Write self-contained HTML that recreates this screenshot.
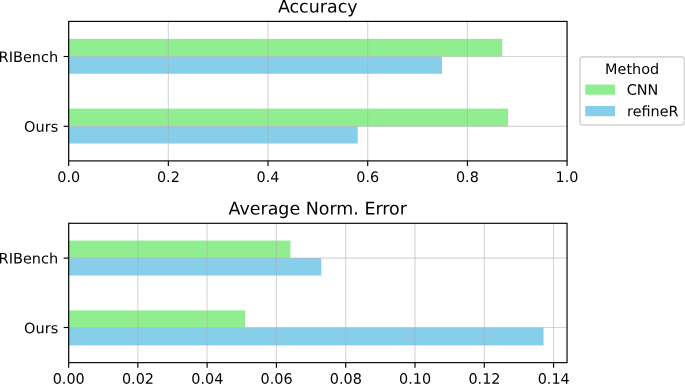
<!DOCTYPE html>
<html><head><meta charset="utf-8"><title>Accuracy / Average Norm. Error</title>
<style>html,body{margin:0;padding:0;background:#fff}body{width:685px;height:384px;overflow:hidden}svg{display:block}text{font-family:"DejaVu Sans", "Liberation Sans", sans-serif;fill:#000}</style>
</head><body>
<svg width="685" height="384" viewBox="0 0 685 384">
<rect width="685" height="384" fill="#fff"/>
<rect x="68.68" y="21.40" width="498.37" height="139.50" fill="#fff"/>
<rect x="68.68" y="38.86" width="433.58" height="17.64" fill="#90ee90"/>
<rect x="68.68" y="56.50" width="373.32" height="17.30" fill="#87ceeb"/>
<rect x="68.68" y="108.59" width="439.32" height="17.71" fill="#90ee90"/>
<rect x="68.68" y="126.30" width="289.05" height="17.25" fill="#87ceeb"/>
<line x1="68.68" x2="68.68" y1="21.40" y2="160.90" stroke="#b0b0b0" stroke-opacity="0.5" stroke-width="1.15"/>
<line x1="168.35" x2="168.35" y1="21.40" y2="160.90" stroke="#b0b0b0" stroke-opacity="0.5" stroke-width="1.15"/>
<line x1="268.03" x2="268.03" y1="21.40" y2="160.90" stroke="#b0b0b0" stroke-opacity="0.5" stroke-width="1.15"/>
<line x1="367.70" x2="367.70" y1="21.40" y2="160.90" stroke="#b0b0b0" stroke-opacity="0.5" stroke-width="1.15"/>
<line x1="467.38" x2="467.38" y1="21.40" y2="160.90" stroke="#b0b0b0" stroke-opacity="0.5" stroke-width="1.15"/>
<line x1="567.05" x2="567.05" y1="21.40" y2="160.90" stroke="#b0b0b0" stroke-opacity="0.5" stroke-width="1.15"/>
<line x1="68.68" x2="567.05" y1="56.50" y2="56.50" stroke="#b0b0b0" stroke-opacity="0.5" stroke-width="1.15"/>
<line x1="68.68" x2="567.05" y1="126.30" y2="126.30" stroke="#b0b0b0" stroke-opacity="0.5" stroke-width="1.15"/>
<line x1="68.68" x2="68.68" y1="160.90" y2="165.94" stroke="#000" stroke-width="1.15"/>
<text transform="translate(68.68,182.10) rotate(0.05)" font-size="14.4" text-anchor="middle">0.0</text>
<line x1="168.35" x2="168.35" y1="160.90" y2="165.94" stroke="#000" stroke-width="1.15"/>
<text transform="translate(168.35,182.10) rotate(0.05)" font-size="14.4" text-anchor="middle">0.2</text>
<line x1="268.03" x2="268.03" y1="160.90" y2="165.94" stroke="#000" stroke-width="1.15"/>
<text transform="translate(268.03,182.10) rotate(0.05)" font-size="14.4" text-anchor="middle">0.4</text>
<line x1="367.70" x2="367.70" y1="160.90" y2="165.94" stroke="#000" stroke-width="1.15"/>
<text transform="translate(367.70,182.10) rotate(0.05)" font-size="14.4" text-anchor="middle">0.6</text>
<line x1="467.38" x2="467.38" y1="160.90" y2="165.94" stroke="#000" stroke-width="1.15"/>
<text transform="translate(467.38,182.10) rotate(0.05)" font-size="14.4" text-anchor="middle">0.8</text>
<line x1="567.05" x2="567.05" y1="160.90" y2="165.94" stroke="#000" stroke-width="1.15"/>
<text transform="translate(567.05,182.10) rotate(0.05)" font-size="14.4" text-anchor="middle">1.0</text>
<line x1="63.64" x2="68.68" y1="56.50" y2="56.50" stroke="#000" stroke-width="1.15"/>
<text transform="translate(58.20,62.00) rotate(0.05)" font-size="14.5" text-anchor="end">RIBench</text>
<line x1="63.64" x2="68.68" y1="126.30" y2="126.30" stroke="#000" stroke-width="1.15"/>
<text transform="translate(58.20,131.80) rotate(0.05)" font-size="14.5" text-anchor="end">Ours</text>
<rect x="68.68" y="21.40" width="498.37" height="139.50" fill="none" stroke="#000" stroke-width="1.15"/>
<text transform="translate(317.72,12.60) rotate(0.05)" font-size="17.47" text-anchor="middle">Accuracy</text>
<rect x="68.68" y="223.30" width="498.37" height="139.35" fill="#fff"/>
<rect x="68.68" y="240.55" width="221.73" height="17.55" fill="#90ee90"/>
<rect x="68.68" y="258.10" width="252.62" height="17.46" fill="#87ceeb"/>
<rect x="68.68" y="310.39" width="176.42" height="17.11" fill="#90ee90"/>
<rect x="68.68" y="327.50" width="474.87" height="17.94" fill="#87ceeb"/>
<line x1="68.68" x2="68.68" y1="223.30" y2="362.65" stroke="#b0b0b0" stroke-opacity="0.5" stroke-width="1.15"/>
<line x1="137.82" x2="137.82" y1="223.30" y2="362.65" stroke="#b0b0b0" stroke-opacity="0.5" stroke-width="1.15"/>
<line x1="207.11" x2="207.11" y1="223.30" y2="362.65" stroke="#b0b0b0" stroke-opacity="0.5" stroke-width="1.15"/>
<line x1="276.40" x2="276.40" y1="223.30" y2="362.65" stroke="#b0b0b0" stroke-opacity="0.5" stroke-width="1.15"/>
<line x1="345.69" x2="345.69" y1="223.30" y2="362.65" stroke="#b0b0b0" stroke-opacity="0.5" stroke-width="1.15"/>
<line x1="414.98" x2="414.98" y1="223.30" y2="362.65" stroke="#b0b0b0" stroke-opacity="0.5" stroke-width="1.15"/>
<line x1="484.27" x2="484.27" y1="223.30" y2="362.65" stroke="#b0b0b0" stroke-opacity="0.5" stroke-width="1.15"/>
<line x1="553.56" x2="553.56" y1="223.30" y2="362.65" stroke="#b0b0b0" stroke-opacity="0.5" stroke-width="1.15"/>
<line x1="68.68" x2="567.05" y1="258.10" y2="258.10" stroke="#b0b0b0" stroke-opacity="0.5" stroke-width="1.15"/>
<line x1="68.68" x2="567.05" y1="327.50" y2="327.50" stroke="#b0b0b0" stroke-opacity="0.5" stroke-width="1.15"/>
<line x1="68.68" x2="68.68" y1="362.65" y2="367.69" stroke="#000" stroke-width="1.15"/>
<text transform="translate(68.68,383.85) rotate(0.05)" font-size="14.4" text-anchor="middle">0.00</text>
<line x1="137.82" x2="137.82" y1="362.65" y2="367.69" stroke="#000" stroke-width="1.15"/>
<text transform="translate(137.97,383.85) rotate(0.05)" font-size="14.4" text-anchor="middle">0.02</text>
<line x1="207.11" x2="207.11" y1="362.65" y2="367.69" stroke="#000" stroke-width="1.15"/>
<text transform="translate(207.26,383.85) rotate(0.05)" font-size="14.4" text-anchor="middle">0.04</text>
<line x1="276.40" x2="276.40" y1="362.65" y2="367.69" stroke="#000" stroke-width="1.15"/>
<text transform="translate(276.55,383.85) rotate(0.05)" font-size="14.4" text-anchor="middle">0.06</text>
<line x1="345.69" x2="345.69" y1="362.65" y2="367.69" stroke="#000" stroke-width="1.15"/>
<text transform="translate(345.84,383.85) rotate(0.05)" font-size="14.4" text-anchor="middle">0.08</text>
<line x1="414.98" x2="414.98" y1="362.65" y2="367.69" stroke="#000" stroke-width="1.15"/>
<text transform="translate(415.13,383.85) rotate(0.05)" font-size="14.4" text-anchor="middle">0.10</text>
<line x1="484.27" x2="484.27" y1="362.65" y2="367.69" stroke="#000" stroke-width="1.15"/>
<text transform="translate(484.42,383.85) rotate(0.05)" font-size="14.4" text-anchor="middle">0.12</text>
<line x1="553.56" x2="553.56" y1="362.65" y2="367.69" stroke="#000" stroke-width="1.15"/>
<text transform="translate(553.71,383.85) rotate(0.05)" font-size="14.4" text-anchor="middle">0.14</text>
<line x1="63.64" x2="68.68" y1="258.10" y2="258.10" stroke="#000" stroke-width="1.15"/>
<text transform="translate(58.20,263.60) rotate(0.05)" font-size="14.5" text-anchor="end">RIBench</text>
<line x1="63.64" x2="68.68" y1="327.50" y2="327.50" stroke="#000" stroke-width="1.15"/>
<text transform="translate(58.20,333.20) rotate(0.05)" font-size="14.5" text-anchor="end">Ours</text>
<rect x="68.68" y="223.30" width="498.37" height="139.35" fill="none" stroke="#000" stroke-width="1.15"/>
<text transform="translate(317.72,214.50) rotate(0.05)" font-size="17.47" text-anchor="middle">Average Norm. Error</text>
<rect x="579.95" y="56.85" width="104.50" height="68.10" rx="2.9" ry="2.9" fill="#fff" fill-opacity="0.8" stroke="#ccc" stroke-opacity="0.8" stroke-width="1.6"/>
<text transform="translate(632.10,73.90) rotate(0.05)" font-size="14.4" text-anchor="middle">Method</text>
<rect x="585.25" y="84.55" width="29.75" height="10.2" fill="#90ee90"/>
<rect x="585.25" y="106.0" width="29.75" height="10.2" fill="#87ceeb"/>
<text transform="translate(626.65,94.65) rotate(0.05)" font-size="14.4">CNN</text>
<text transform="translate(627.05,116.20) rotate(0.05)" font-size="14.4">refineR</text>
</svg>
</body></html>
